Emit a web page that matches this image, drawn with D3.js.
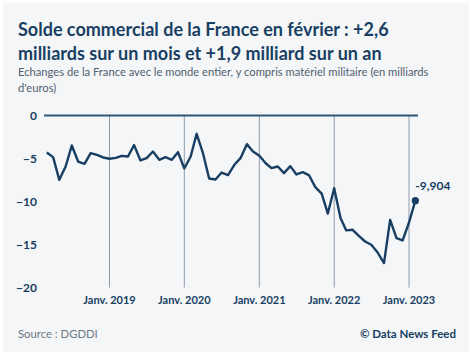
<!DOCTYPE html>
<html><head><meta charset="utf-8">
<script src="https://cdn.jsdelivr.net/npm/d3@7"></script>
<style>
html,body{margin:0;padding:0;background:#ffffff;}
svg{display:block;}
</style></head>
<body>
<svg id="chart" width="474" height="356"></svg>
<script>
const startMonth = "2018-03";
const values = [
 -4.30,-4.84,-7.48,-5.93,-3.49,-5.35,-5.62,-4.38,-4.57,-4.88,
 -5.03,-4.92,-4.69,-4.77,-3.44,-5.23,-4.96,-4.19,-5.15,-4.84,
 -5.15,-4.26,-6.16,-4.77,-2.13,-4.38,-7.33,-7.44,-6.63,-6.93,
 -5.73,-4.96,-3.33,-4.19,-4.69,-5.55,-6.12,-5.93,-6.70,-5.89,
 -6.85,-6.59,-6.97,-8.33,-9.09,-11.4,-8.45,-11.93,-13.36,-13.29,
 -13.99,-14.65,-15.03,-15.93,-17.16,-12.13,-14.26,-14.53,-12.44,-9.904
];
const yTicks = [0,-5,-10,-15,-20];
const xTickDates = ["2019-01","2020-01","2021-01","2022-01","2023-01"];
const xTickLabels = ["Janv. 2019","Janv. 2020","Janv. 2021","Janv. 2022","Janv. 2023"];
const lastLabel = "-9,904";
const title = ["Solde commercial de la France en février : +2,6","milliards sur un mois et +1,9 milliard sur un an"];
const subtitle = ["Echanges de la France avec le monde entier, y compris matériel militaire (en milliards","d'euros)"];
const source = "Source : DGDDI";
const credit = "© Data News Feed";

const parse = d3.timeParse("%Y-%m");
const s0 = parse(startMonth);
const data = values.map((v,i)=>({date:d3.timeMonth.offset(s0,i), value:v}));

const svg = d3.select("#chart");
const navy = "#183f63";
const font = "Lato, 'Open Sans', sans-serif";

svg.append("rect").attr("x",3).attr("y",3).attr("width",466).attr("height",349).attr("fill","#f5f6f7");

// Title
const t = svg.append("text").attr("font-family",font).attr("font-weight",700).attr("font-size",18).attr("fill",navy);
title.forEach((l,i)=>t.append("tspan").attr("x",18).attr("y",36+i*23.5).text(l));
const st = svg.append("text").attr("font-family",font).attr("font-size",11.2).attr("fill","#50606f");
subtitle.forEach((l,i)=>st.append("tspan").attr("x",18).attr("y",76+i*15.5).text(l));

// scales
const x = d3.scaleTime().domain([parse("2019-01"), parse("2023-01")]).range([109.5, 409]);
const y = d3.scaleLinear().domain([0,-20]).range([115.5, 287.5]);

// vertical gridlines
svg.append("g").selectAll("line").data(xTickDates).join("line")
  .attr("x1",d=>x(parse(d))).attr("x2",d=>x(parse(d)))
  .attr("y1",y(0)).attr("y2",y(-20))
  .attr("stroke","#8d9cad").attr("stroke-width",1);

// zero line
svg.append("line").attr("x1",44).attr("x2",418).attr("y1",y(0)).attr("y2",y(0))
  .attr("stroke","#2e5678").attr("stroke-width",2);

// y labels
svg.append("g").selectAll("text").data(yTicks).join("text")
  .attr("x",37).attr("y",d=>y(d)+4).attr("text-anchor","end")
  .attr("font-family",font).attr("font-weight",700).attr("font-size",12).attr("fill",navy)
  .text(d=>d===0?"0":"\u2212"+Math.abs(d));

// x labels
svg.append("g").selectAll("text").data(xTickDates).join("text")
  .attr("x",d=>x(parse(d))).attr("y",304)
  .attr("text-anchor","middle")
  .attr("font-family",font).attr("font-weight",700).attr("font-size",11).attr("fill",navy)
  .text((d,i)=>xTickLabels[i]);

// line
const line = d3.line().x(d=>x(d.date)).y(d=>y(d.value));
svg.append("path").datum(data).attr("d",line).attr("fill","none")
  .attr("stroke",navy).attr("stroke-width",2.4).attr("stroke-linejoin","round");

const last = data[data.length-1];
svg.append("circle").attr("cx",x(last.date)).attr("cy",y(last.value)).attr("r",3.6).attr("fill",navy);
svg.append("text").attr("x",x(last.date)).attr("y",y(last.value)-11)
  .attr("font-family",font).attr("font-weight",700).attr("font-size",12).attr("fill",navy)
  .text(lastLabel);

// footer
svg.append("text").attr("x",18).attr("y",338).attr("font-family",font).attr("font-size",11.3).attr("fill","#6b7886").text(source);
svg.append("text").attr("x",456).attr("y",338).attr("text-anchor","end").attr("font-family",font).attr("font-weight",700).attr("font-size",11.5).attr("fill",navy).text(credit);
</script>
</body></html>
